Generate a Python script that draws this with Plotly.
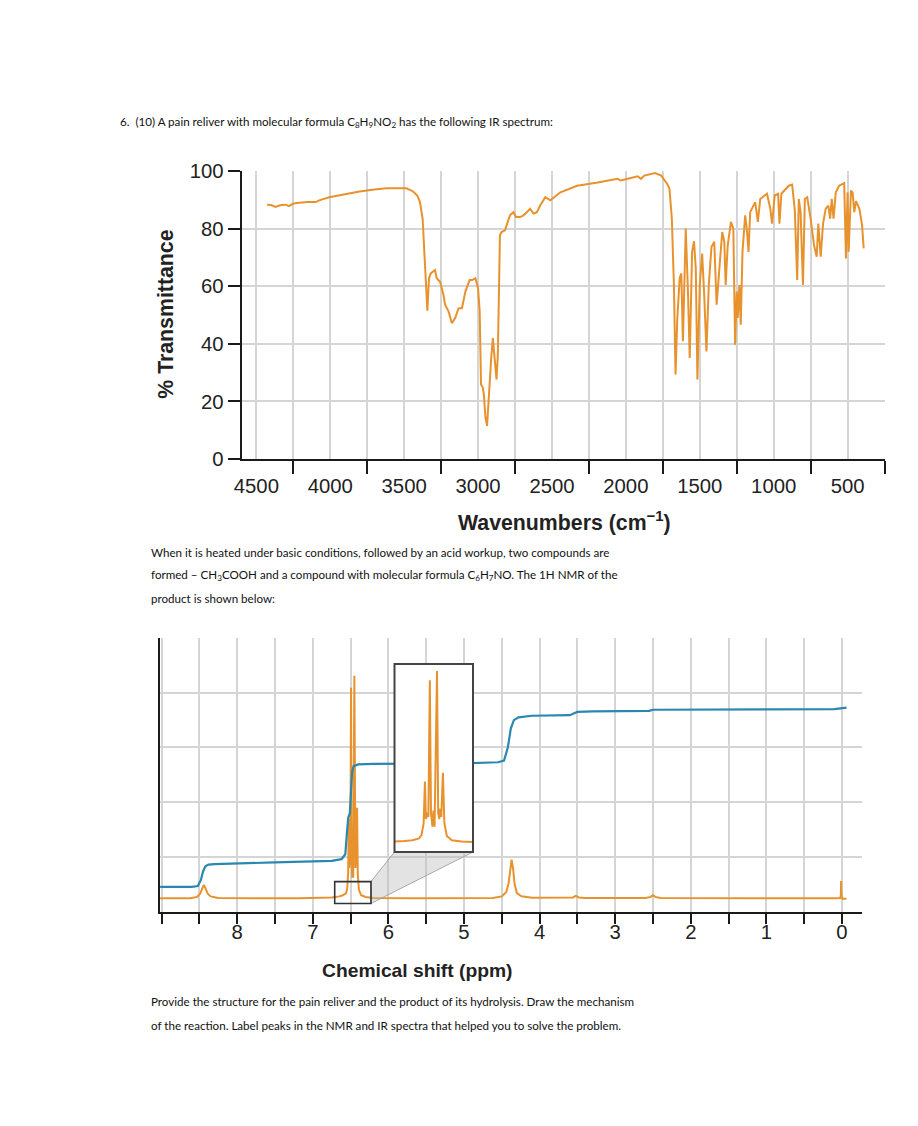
import plotly.graph_objects as go

# ---------------- DATA ----------------
# IR spectrum (wavenumber cm-1, % transmittance)
ir_wn = [4427, 4400, 4370, 4340, 4302, 4280, 4250, 4211, 4150, 4098, 4075, 4007, 3900, 3802, 3700,
         3620, 3484, 3439, 3410, 3393, 3375, 3364, 3352, 3343, 3332, 3320, 3291, 3280, 3257, 3234,
         3223, 3200, 3177, 3155, 3132, 3109, 3086, 3057, 3041, 3018, 3000, 2989, 2980, 2968, 2961,
         2950, 2939, 2927, 2911, 2900, 2889, 2875, 2866, 2852, 2841, 2818, 2807, 2784, 2761, 2743,
         2716, 2693, 2670, 2648, 2625, 2602, 2580, 2545, 2511, 2443, 2330, 2200, 2057, 2034, 1960,
         1920, 1898, 1875, 1802, 1761, 1720, 1705, 1689, 1675, 1664, 1652, 1636, 1625, 1614, 1595,
         1580, 1568, 1552, 1539, 1527, 1516, 1500, 1484, 1470, 1455, 1439, 1421, 1402, 1386, 1364,
         1348, 1334, 1325, 1311, 1289, 1273, 1261, 1250, 1243, 1232, 1223, 1211, 1193, 1182, 1170,
         1159, 1125, 1107, 1091, 1045, 1023, 1011, 993, 970, 961, 948, 898, 875, 857, 841,
         830, 818, 811, 802, 789, 773, 750, 727, 709, 698, 682, 666, 648, 630, 618,
         607, 595, 580, 557, 523, 511, 500, 493, 477, 466, 455, 443, 420, 402, 391]
ir_t = [88.4, 88.3, 87.6, 88.2, 88.4, 87.9, 88.8, 89.1, 89.3, 89.3, 89.9, 91.0, 92.0, 93.0, 93.7,
        94.1, 94.1, 93.0, 91.5, 89.3, 83.5, 72.0, 58.2, 51.5, 62.8, 64.5, 65.7, 62.8, 61.6, 57.0,
        53.6, 51.3, 47.2, 49.0, 52.4, 52.4, 58.2, 62.2, 62.2, 62.8, 59.3, 51.3, 25.9, 24.8, 22.5,
        14.4, 11.5, 23.6, 35.1, 42.0, 36.3, 27.6, 36.3, 77.8, 78.9, 79.5, 81.2, 84.7, 85.8, 84.1,
        84.1, 84.7, 85.8, 87.0, 85.3, 85.8, 88.1, 91.0, 89.9, 92.7, 95.0, 96.0, 97.4, 96.8, 97.8,
        98.3, 97.4, 98.5, 99.4, 98.5, 95.6, 93.9, 83.5, 60.5, 29.4, 49.0, 62.8, 64.5, 40.9, 80.1,
        58.2, 35.1, 72.0, 75.7, 66.2, 27.6, 60.5, 71.4, 57.0, 37.4, 60.5, 73.7, 75.5, 53.6, 68.5,
        78.9, 75.5, 60.5, 74.3, 82.4, 80.1, 39.7, 58.2, 49.0, 60.5, 46.7, 72.0, 84.7, 80.1, 72.0,
        85.8, 89.3, 82.4, 90.4, 92.2, 87.0, 81.8, 91.6, 92.2, 81.8, 92.2, 95.0, 95.4, 86.4, 62.2,
        90.4, 85.8, 69.7, 60.5, 90.4, 91.0, 83.5, 74.3, 70.3, 81.8, 70.3, 81.8, 87.0, 88.1, 83.5,
        90.4, 83.5, 92.7, 95.0, 95.9, 69.7, 92.7, 72.0, 93.3, 92.7, 85.8, 89.6, 87.0, 81.2, 73.2]

ir_y_ticks = [0, 20, 40, 60, 80, 100]
ir_x_labels = [4500, 4000, 3500, 3000, 2500, 2000, 1500, 1000, 500]
ir_x_minor = [4250, 3750, 3250, 2750, 2250, 1750, 1250, 750, 250]

# 1H NMR spectrum (ppm, intensity)
nmr_ppm = [9.02, 8.62, 8.53, 8.49, 8.46, 8.44, 8.42, 8.39, 8.35, 8.25, 7.20, 6.85, 6.75, 6.65,
           6.60, 6.56, 6.545, 6.532, 6.524, 6.518, 6.510, 6.503, 6.494, 6.487, 6.478, 6.472,
           6.465, 6.450, 6.443, 6.436, 6.430, 6.424, 6.414, 6.405, 6.39, 6.36, 6.30, 6.20,
           5.60, 4.62, 4.50, 4.44, 4.41, 4.39, 4.37, 4.35, 4.33, 4.30, 4.24, 4.10, 3.70,
           3.56, 3.52, 3.48, 3.40, 2.60, 2.53, 2.50, 2.47, 2.40, 0.10, 0.025, 0.015, 0.012,
           0.005, -0.005, -0.06]
nmr_int = [0.245, 0.245, 0.27, 0.33, 0.43, 0.49, 0.43, 0.33, 0.28, 0.25, 0.245, 0.25, 0.26, 0.28,
           0.30, 0.34, 0.42, 0.70, 1.69, 0.80, 0.95, 0.85, 4.09, 0.95, 0.62, 1.00,
           0.62, 4.31, 0.95, 0.80, 1.05, 0.85, 1.90, 0.70, 0.40, 0.30, 0.27, 0.25,
           0.245, 0.25, 0.28, 0.36, 0.52, 0.78, 0.95, 0.78, 0.50, 0.34, 0.28, 0.255, 0.25,
           0.26, 0.29, 0.26, 0.25, 0.25, 0.27, 0.30, 0.27, 0.25, 0.245, 0.25, 0.30, 0.56,
           0.28, 0.235, 0.235]

# integral curve (ppm, cumulative)
integ_ppm = [9.02, 8.60, 8.52, 8.48, 8.45, 8.42, 8.38, 8.30, 7.50, 6.75, 6.62, 6.57, 6.545,
             6.53, 6.51, 6.50, 6.48, 6.46, 6.40, 6.20, 5.00, 4.55, 4.47, 4.42, 4.38, 4.34,
             4.28, 4.10, 3.60, 3.55, 3.50, 3.30, 2.55, 2.50, 0.20, 0.10, -0.06]
integ_val = [0.455, 0.455, 0.47, 0.58, 0.74, 0.83, 0.86, 0.87, 0.90, 0.93, 0.96, 1.05, 1.50,
             1.72, 1.80, 2.10, 2.55, 2.66, 2.69, 2.70, 2.71, 2.73, 2.76, 3.00, 3.35, 3.50,
             3.55, 3.58, 3.59, 3.62, 3.65, 3.66, 3.67, 3.69, 3.69, 3.70, 3.73]

nmr_ticks = [9.0, 8.5, 8.0, 7.5, 7.0, 6.5, 6.0, 5.5, 5.0, 4.5, 4.0, 3.5, 3.0, 2.5, 2.0, 1.5, 1.0, 0.5, 0.0]
nmr_labels = ["", "", "8", "", "7", "", "6", "", "5", "", "4", "", "3", "", "2", "", "1", "", "0"]

ZOOM_PPM = [6.71, 6.23]      # expanded region shown in the inset
ZOOM_INT = [0.15, 0.55]      # height of the small selection box
INSET_INT = [0.02, 4.48]     # intensity range shown inside the inset

# ---------------- STYLE / LAYOUT ----------------
OFF = 8                      # default page body margin of the html page
SC = 0.985                   # observed overall scale of the captured page
W, H = 902, 1110
ORANGE = "#E8922E"
BLUE = "#2A87B0"
GRID = "#d5d5d5"
AX = "#1a1a1a"


def fs(s):
    return s / SC


TICKFONT = dict(family="Liberation Sans, Arial, sans-serif", size=fs(20), color="#222")
BODY = dict(family="Lato, Liberation Sans, sans-serif", size=fs(11.45), color="#111")


def fx(p):
    return (p / SC - OFF) / W


def fy(p):
    return 1 - (p / SC - OFF) / H


ir_dom_x = [fx(240), fx(879)]
ir_dom_y = [fy(458), fy(169)]
nmr_dom_x = [fx(159), fx(857)]
nmr_dom_y = [fy(913), fy(638)]
ins_dom_x = [fx(392), fx(470)]
ins_dom_y = [fy(853), fy(664)]
IR_RANGE = [4600, 250]
NMR_RANGE = [9.02, -0.27]
NMR_Y = [0, 5]

fig = go.Figure()

# IR
fig.add_trace(go.Scatter(x=ir_wn, y=ir_t, mode="lines", line=dict(color=ORANGE, width=2),
                         xaxis="x", yaxis="y", hoverinfo="skip", showlegend=False))

# NMR main
fig.add_trace(go.Scatter(x=nmr_ppm, y=nmr_int, mode="lines", line=dict(color=ORANGE, width=2),
                         xaxis="x2", yaxis="y2", hoverinfo="skip", showlegend=False))
fig.add_trace(go.Scatter(x=integ_ppm, y=integ_val, mode="lines", line=dict(color=BLUE, width=2.2),
                         xaxis="x2", yaxis="y2", hoverinfo="skip", showlegend=False))


# callout wedge from the small box to the inset
def paper_to_x2(p):
    return NMR_RANGE[0] + (p - nmr_dom_x[0]) / (nmr_dom_x[1] - nmr_dom_x[0]) * (NMR_RANGE[1] - NMR_RANGE[0])


def paper_to_y2(p):
    return NMR_Y[0] + (p - nmr_dom_y[0]) / (nmr_dom_y[1] - nmr_dom_y[0]) * (NMR_Y[1] - NMR_Y[0])


ix0, ix1 = paper_to_x2(ins_dom_x[0]), paper_to_x2(ins_dom_x[1])
iy0 = paper_to_y2(ins_dom_y[0])
fig.add_trace(go.Scatter(
    x=[ZOOM_PPM[1], ix0, ix1, ZOOM_PPM[1], ZOOM_PPM[1]],
    y=[ZOOM_INT[1], iy0, iy0, ZOOM_INT[0], ZOOM_INT[1]],
    mode="lines", fill="toself", fillcolor="rgba(185,185,185,0.40)",
    line=dict(color="rgba(160,160,160,0.9)", width=1),
    xaxis="x2", yaxis="y2", hoverinfo="skip", showlegend=False))

# inset (white background + expanded spectrum)
fig.add_trace(go.Scatter(
    x=[ZOOM_PPM[0], ZOOM_PPM[1], ZOOM_PPM[1], ZOOM_PPM[0], ZOOM_PPM[0]],
    y=[INSET_INT[0], INSET_INT[0], INSET_INT[1], INSET_INT[1], INSET_INT[0]],
    mode="lines", fill="toself", fillcolor="white", line=dict(width=0, color="white"),
    xaxis="x3", yaxis="y3", hoverinfo="skip", showlegend=False))
fig.add_trace(go.Scatter(x=nmr_ppm, y=nmr_int, mode="lines", line=dict(color=ORANGE, width=2),
                         xaxis="x3", yaxis="y3", hoverinfo="skip", showlegend=False))

fig.update_layout(
    width=W, height=H, margin=dict(l=0, r=0, t=0, b=0),
    paper_bgcolor="white", plot_bgcolor="white", showlegend=False,
    xaxis=dict(domain=ir_dom_x, range=IR_RANGE, anchor="y",
               showline=True, linecolor=AX, linewidth=2,
               tickmode="array", tickvals=ir_x_labels, ticktext=[str(v) for v in ir_x_labels],
               ticks="outside", ticklen=8, tickcolor="rgba(0,0,0,0)", tickfont=TICKFONT,
               showgrid=True, gridcolor=GRID, gridwidth=1.5, zeroline=False,
               minor=dict(tickmode="array", tickvals=ir_x_minor, ticks="outside", ticklen=13,
                          tickwidth=2, tickcolor=AX, showgrid=True, gridcolor=GRID, gridwidth=1.5)),
    yaxis=dict(domain=ir_dom_y, range=[0, 100], anchor="x",
               showline=True, linecolor=AX, linewidth=2,
               tickmode="array", tickvals=ir_y_ticks, ticks="outside", ticklen=12, tickwidth=2,
               tickcolor=AX, tickfont=TICKFONT, showgrid=True, gridcolor=GRID, gridwidth=1.5,
               zeroline=False),
    xaxis2=dict(domain=nmr_dom_x, range=NMR_RANGE, anchor="y2",
                showline=True, linecolor=AX, linewidth=2,
                tickmode="array", tickvals=nmr_ticks, ticktext=nmr_labels,
                ticks="outside", ticklen=10, tickwidth=2, tickcolor=AX, tickfont=TICKFONT,
                ticklabelstandoff=-9,
                showgrid=True, gridcolor=GRID, gridwidth=1.5, zeroline=False),
    yaxis2=dict(domain=nmr_dom_y, range=NMR_Y, anchor="x2",
                showline=True, linecolor=AX, linewidth=2, showticklabels=False, ticks="",
                tickmode="array", tickvals=[1, 2, 3, 4, 5],
                showgrid=True, gridcolor=GRID, gridwidth=1.5, zeroline=False),
    xaxis3=dict(domain=ins_dom_x, range=ZOOM_PPM, anchor="y3", visible=False),
    yaxis3=dict(domain=ins_dom_y, range=INSET_INT, anchor="x3", visible=False),
)

shapes = [
    # small selection box
    dict(type="rect", xref="x2", yref="y2", x0=ZOOM_PPM[0], x1=ZOOM_PPM[1],
         y0=ZOOM_INT[0], y1=ZOOM_INT[1], line=dict(color="#333", width=1.6), layer="above"),
    # inset frame
    dict(type="rect", xref="x3 domain", yref="y3 domain", x0=0, x1=1, y0=0, y1=1,
         line=dict(color="#444", width=2), layer="above"),
]
fig.update_layout(shapes=shapes)

ann = []


def text(x, y, s, font=BODY, **kw):
    d = dict(xref="paper", yref="paper", x=fx(x), y=fy(y), text=s, showarrow=False,
             xanchor="left", yanchor="middle", font=font)
    d.update(kw)
    ann.append(d)


text(117, 120, "6.  (10) A pain reliver with molecular formula C<sub>8</sub>H<sub>9</sub>NO<sub>2</sub> has the following IR spectrum:")
text(148, 552, "When it is heated under basic conditions, followed by an acid workup, two compounds are")
text(148, 575, "formed – CH<sub>3</sub>COOH and a compound with molecular formula C<sub>6</sub>H<sub>7</sub>NO. The 1H NMR of the")
text(148, 598, "product is shown below:")
text(148, 1003, "Provide the structure for the pain reliver and the product of its hydrolysis. Draw the mechanism")
text(148, 1027, "of the reaction. Label peaks in the NMR and IR spectra that helped you to solve the problem.")

TITLE = dict(family="Liberation Sans, Arial, sans-serif", size=fs(21), color="#222")
text(561, 520, "<b>Wavenumbers (cm<sup>−1</sup>)</b>", font=TITLE, xanchor="center")
text(165, 313, "<b>% Transmittance</b>", font=TITLE, xanchor="center", textangle=-90)
text(415, 972, "<b>Chemical shift (ppm)</b>",
     font=dict(family="Liberation Sans, Arial, sans-serif", size=fs(19), color="#222"), xanchor="center")

fig.update_layout(annotations=ann)

fig.write_html("out.html")
